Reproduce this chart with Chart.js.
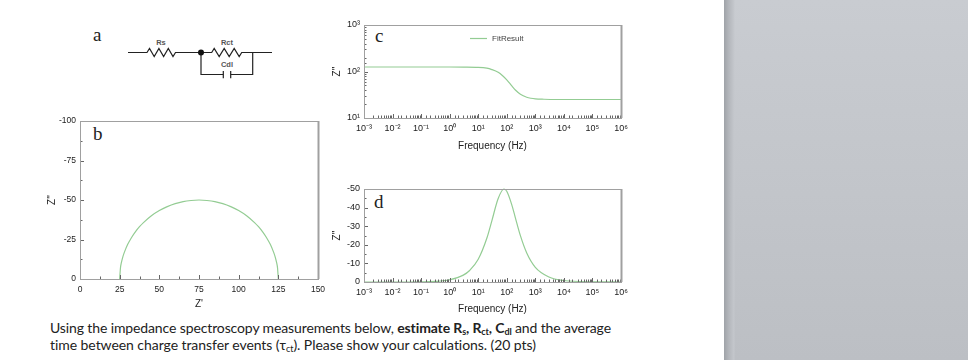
<!DOCTYPE html>
<html>
<head>
<meta charset="utf-8">
<style>
  html, body { margin: 0; padding: 0; background: #fff; }
  #page { position: relative; width: 968px; height: 360px; overflow: hidden; }
  #page canvas { position: absolute; }
  #sidebar {
    position: absolute; left: 724px; top: 0; width: 244px; height: 360px;
    background:
      linear-gradient(90deg, #9fa3a8 0, #b4b7bc 5px, #c4c7cc 10px, rgba(196,199,204,0) 11px),
      linear-gradient(180deg, #c9ccd1, #bcbfc4);
  }
  .letter { position: absolute; font: 19px "Liberation Serif", serif; color: #222; line-height: 18px; }
  #question {
    position: absolute; left: 50px; top: 319px; width: 600px;
    font: 14px/17px Lato, sans-serif; letter-spacing: -0.12px; color: #222; white-space: nowrap;
  }
  #question span { letter-spacing: -0.06px; }
  #question sub { font-size: 9px; line-height: 0; vertical-align: -2px; }
  #circuit { position: absolute; left: 0; top: 0; }
  #circuit text { font: bold 7.5px "Liberation Sans", sans-serif; fill: #555; text-anchor: middle; }
</style>
</head>
<body>
<div id="page">
  <div id="sidebar"></div>
  <svg id="circuit" width="300" height="100" fill="none" stroke="#222" stroke-width="1.2">
    <path d="M128 52.5H147l2.5-4 4.7 8 4.7-8 4.7 8 4.7-8 4.7 8 2.5-4H211.7l2.5-4 5 8 5-8 5 8 5-8 5 8 2.5-4H272"/>
    <path d="M201 52.5V74.5H223.3M230.7 74.5H252.7V52.5"/>
    <path d="M223.3 71V78.3M230.7 71V78.3"/>
    <circle cx="201" cy="52.5" r="3" fill="#111" stroke="none"/>
    <text x="161" y="45" stroke="none">Rs</text>
    <text x="227" y="45" stroke="none">Rct</text>
    <text x="227" y="67" stroke="none">Cdl</text>
  </svg>
  <div class="letter" style="left:93px;top:26px">a</div>
  <div class="letter" style="left:93px;top:125px">b</div>
  <div class="letter" style="left:375px;top:27px">c</div>
  <div class="letter" style="left:374px;top:193px">d</div>
  <canvas id="nyquistChart"></canvas>
  <canvas id="magnitudeChart"></canvas>
  <canvas id="phaseChart"></canvas>
  <div id="question">Using the impedance spectroscopy measurements below, <b>estimate R<sub>s</sub>, R<sub>ct</sub>, C<sub>dl</sub></b> and the average<br><span>time between charge transfer events (&#964;<sub>ct</sub>). Please show your calculations. (20 pts)</span></div>
</div>

<script src="https://cdn.jsdelivr.net/npm/chart.js@4/dist/chart.umd.min.js"></script>
<script>
// values
const nyquistRe = [25, 25.5, 26, 27, 28, 30, 32.5, 35, 37.5, 40, 45, 50, 55, 60, 65, 70, 75,
                   80, 85, 90, 95, 100, 105, 110, 112.5, 115, 117.5, 120, 122, 123, 124, 124.5, 125];
const nyquistIm = [0, -7, -10, -14, -17, -21.8, -26.3, -30, -33.1, -35.7, -40, -43.3, -45.8, -47.7, -49, -49.7, -50,
                   -49.7, -49, -47.7, -45.8, -43.3, -40, -35.7, -33.1, -30, -26.3, -21.8, -17, -14, -10, -7, 0];

const magFreq = [0.001, 0.01, 0.1, 1, 3, 10, 20, 30, 50, 70, 100, 150, 200, 300, 500, 700, 1000, 2000, 5000, 10000, 100000, 1000000];
const magValues = [125, 125, 125, 125, 124.5, 123, 118, 110, 96, 82, 66, 49, 40, 32.5, 28, 26.6, 25.8, 25.3, 25, 25, 25, 25];

const phaseFreq = [0.001, 0.01, 0.1, 0.3, 1, 3, 5, 10, 20, 30, 50, 80, 100, 150, 200, 300, 500, 1000, 3000, 10000, 100000, 1000000];
const phaseValues = [0, 0, -0.1, -0.3, -1.2, -3.7, -6.2, -12.2, -23.5, -32.9, -44.9, -50, -48.8, -41.5, -34.5, -24.9, -15.6, -7.9, -2.7, -0.8, -0.1, 0];

const lineColor = '#93cc93';
const frameColor = '#a0a0a0';
const tickColor = '#666';
const labelColor = '#222';
const fontFamily = '"Liberation Sans", Arial, sans-serif';
const textFont = { family: fontFamily, size: 8.5 };
const phaseFont = { family: fontFamily, size: 9 };
const titleFont = { family: fontFamily, size: 10 };

const superDigits = { '-': '\u207B', 0: '\u2070', 1: '\u00B9', 2: '\u00B2', 3: '\u00B3', 4: '\u2074', 5: '\u2075', 6: '\u2076' };

function isDecade(v) {
    const e = Math.log10(v);
    return Math.abs(e - Math.round(e)) < 1e-6;
}

function decadeLabel(v) {
    if (!isDecade(v)) return '';
    const e = String(Math.round(Math.log10(v)));
    return '10' + e.split('').map(c => superDigits[c]).join('');
}

// inward tick marks, the grey frame round the plot, and the small legend
const plotFrame = {
    id: 'plotFrame',
    afterDatasetsDraw(chart, args, opts) {
        const { ctx, chartArea: a, scales } = chart;
        ctx.save();
        ctx.strokeStyle = tickColor;
        ctx.lineWidth = 1;
        ctx.beginPath();
        scales.x.ticks.forEach(t => {
            const px = Math.round(scales.x.getPixelForValue(t.value)) + 0.5;
            const len = opts.isMajorX(t.value) ? 4 : 2.5;
            ctx.moveTo(px, a.bottom);
            ctx.lineTo(px, a.bottom - len);
        });
        scales.y.ticks.forEach(t => {
            const py = Math.round(scales.y.getPixelForValue(t.value)) + 0.5;
            const len = opts.isMajorY(t.value) ? 4 : 2.5;
            ctx.moveTo(a.left, py);
            ctx.lineTo(a.left + len, py);
        });
        ctx.stroke();
        ctx.strokeStyle = frameColor;
        ctx.strokeRect(a.left + 0.5, a.top + 0.5, a.right - a.left, a.bottom - a.top);
        ctx.lineWidth = 2;
        ctx.beginPath();
        ctx.moveTo(a.right + 0.5, a.top);
        ctx.lineTo(a.right + 0.5, a.bottom);
        ctx.stroke();
        if (opts.legend) {
            const ds = chart.data.datasets[0];
            const lx = a.left + 106, ly = a.top + 13.5;
            ctx.strokeStyle = ds.borderColor;
            ctx.lineWidth = 1.2;
            ctx.beginPath();
            ctx.moveTo(lx, ly);
            ctx.lineTo(lx + 17, ly);
            ctx.stroke();
            ctx.fillStyle = '#444';
            ctx.font = '8px ' + fontFamily;
            ctx.textBaseline = 'middle';
            ctx.fillText(ds.label, lx + 22, ly);
        }
        ctx.restore();
    }
};

function axis(extra, titleText, fitSize, isX) {
    return Object.assign({
        grid: { display: false, drawTicks: false },
        border: { display: false },
        title: { display: true, text: titleText, font: titleFont, color: labelColor, padding: 0 },
        afterFit(scale) {
            if (isX) scale.height = fitSize; else scale.width = fitSize;
        }
    }, extra);
}

// plot is the rectangle the axes must enclose, in page pixels
function makeChart(id, plot, points, xAxis, yAxis, xTitle, yTitle, frame) {
    const el = document.getElementById(id);
    const box = { left: plot.left - plot.yWidth, top: plot.top - 10, right: plot.right + 16, bottom: plot.bottom + plot.xHeight };
    el.width = box.right - box.left;
    el.height = box.bottom - box.top;
    el.style.left = box.left + 'px';
    el.style.top = box.top + 'px';
    return new Chart(el, {
        type: 'scatter',
        data: {
            datasets: [{
                label: 'FitResult',
                data: points,
                showLine: true,
                borderColor: lineColor,
                backgroundColor: lineColor,
                borderWidth: 1.2,
                pointRadius: 0,
                cubicInterpolationMode: xAxis.type === 'logarithmic' ? 'monotone' : 'default',
                tension: 0.2,
                clip: false
            }]
        },
        options: {
            responsive: false,
            animation: false,
            layout: { padding: { top: 10, right: 16, left: 0, bottom: 0 } },
            scales: {
                x: axis(xAxis, xTitle, plot.xHeight, true),
                y: axis(yAxis, yTitle, plot.yWidth, false)
            },
            plugins: {
                tooltip: { enabled: false },
                legend: { display: false },
                plotFrame: frame
            }
        },
        plugins: [plotFrame]
    });
}

function logX() {
    return {
        type: 'logarithmic', min: 0.001, max: 1000000,
        ticks: { font: phaseFont, color: labelColor, padding: 5, autoSkip: false, maxRotation: 0, minRotation: 0, callback: decadeLabel }
    };
}

function linearTicks(min, max, step, labelEvery, font, padding) {
    return {
        type: 'linear', min, max,
        ticks: {
            font, color: labelColor, padding, stepSize: step, autoSkip: false, maxRotation: 0, minRotation: 0,
            callback: v => (v % labelEvery === 0 ? String(v) : '')
        }
    };
}

const nyquistPoints = nyquistRe.map((x, i) => ({ x, y: nyquistIm[i] }));
const magPoints = magFreq.map((x, i) => ({ x, y: magValues[i] }));
const phasePoints = phaseFreq.map((x, i) => ({ x, y: phaseValues[i] }));

makeChart('nyquistChart',
    { left: 80, right: 318, top: 121, bottom: 279, yWidth: 34, xHeight: 31 },
    nyquistPoints,
    linearTicks(0, 150, 12.5, 25, textFont, 6),
    Object.assign(linearTicks(-100, 0, 12.5, 25, textFont, 4), { reverse: true }),
    "Z'", "Z''",
    { isMajorX: v => v % 25 === 0, isMajorY: v => v % 25 === 0 });

makeChart('magnitudeChart',
    { left: 364, right: 621, top: 25, bottom: 118, yWidth: 33, xHeight: 34 },
    magPoints,
    logX(),
    { type: 'logarithmic', min: 10, max: 1000, ticks: { font: phaseFont, color: labelColor, padding: 4, autoSkip: false, callback: decadeLabel } },
    'Frequency (Hz)', "Z''",
    { isMajorX: isDecade, isMajorY: isDecade, legend: true });

makeChart('phaseChart',
    { left: 364, right: 621, top: 189, bottom: 282, yWidth: 33, xHeight: 33 },
    phasePoints,
    logX(),
    Object.assign(linearTicks(-50, 0, 5, 10, phaseFont, 4), { reverse: true }),
    'Frequency (Hz)', "Z''",
    { isMajorX: isDecade, isMajorY: v => v % 10 === 0 });
</script>
</body>
</html>
